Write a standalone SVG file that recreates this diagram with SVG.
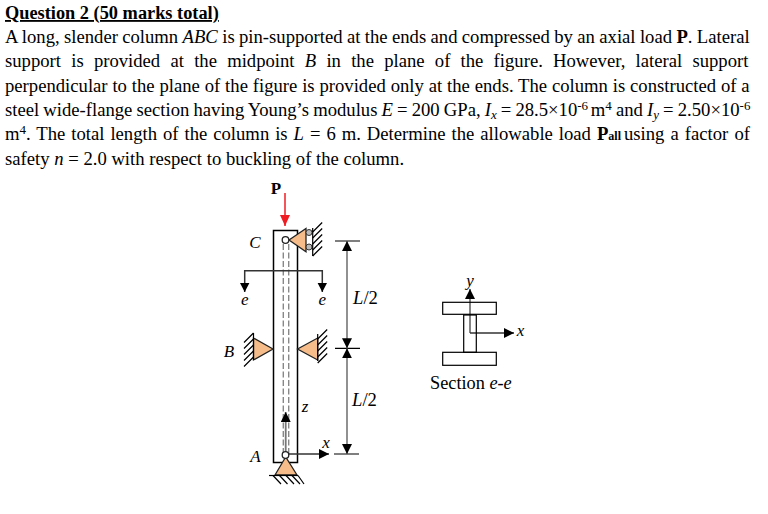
<svg xmlns="http://www.w3.org/2000/svg" width="768" height="514" viewBox="0 0 768 514">
<style>
text{font-family:"Liberation Serif","Times New Roman",serif;fill:#000}
.b{font-size:18.67px;white-space:pre}
.l{font-size:17px}
.i{font-style:italic}
.bd{font-weight:bold}
.ln{fill:none;stroke:#000;stroke-width:1.5}
.thin{fill:none;stroke:#000;stroke-width:1.2}
.tri{fill:#f6bd8a;stroke:#222;stroke-width:1.3}
.dash{fill:none;stroke:#888;stroke-width:1.4;stroke-dasharray:6 2.5}
.ax{fill:none;stroke:#333;stroke-width:1.5}
.gr{fill:none;stroke:#777;stroke-width:1.8}
.dim{fill:none;stroke:#555;stroke-width:1.3}
</style>
<defs>
<marker id="ah" markerUnits="userSpaceOnUse" markerWidth="12" markerHeight="12" refX="10" refY="5" orient="auto-start-reverse"><path d="M0 0L10 5L0 10z" fill="#000"/></marker>
<marker id="ahr" markerUnits="userSpaceOnUse" markerWidth="12" markerHeight="12" refX="11" refY="5" orient="auto"><path d="M0 0L11 5L0 10z" fill="#f01c24"/></marker>
<path id="hu" d="M0 0l9.500-9.500M0 6l9.500-9.500M0 12l9.500-9.500M0 18l9.500-9.500M0 24l9.500-9.500"/>
<path id="hd" d="M0 0l-9.500 9.500M0 6l-9.500 9.500M0 12l-9.500 9.500M0 18l-9.500 9.500M0 24l-9.500 9.500"/>
</defs>
<g id="question">
<text x="5" y="19" class="b bd" style="font-size:18.33px;text-decoration:underline">Question 2 (50 marks total)</text>
<text x="5" y="43" class="b" style="word-spacing:-0.3px">A long, slender column <tspan class="i">ABC</tspan> is pin-supported at the ends and compressed by an axial load <tspan class="bd">P</tspan>. Lateral</text>
<text x="5" y="67" class="b" style="word-spacing:5.57px">support is provided at the midpoint <tspan class="i">B</tspan> in the plane of the figure. However, lateral support</text>
<text x="5" y="91.500" class="b" style="word-spacing:0.2px">perpendicular to the plane of the figure is provided only at the ends. The column is constructed of a</text>
<text x="5" y="116" class="b" style="word-spacing:-0.55px">steel wide-flange section having Young’s modulus <tspan class="i">E</tspan> = 200 GPa, <tspan class="i">I<tspan font-size="13" dy="3">x</tspan></tspan><tspan dy="-3"> = 28.5×10</tspan><tspan font-size="13" dy="-6">-6 </tspan><tspan dy="6">m</tspan><tspan font-size="13" dy="-6">4</tspan><tspan dy="6"> and </tspan><tspan class="i">I<tspan font-size="13" dy="3">y</tspan></tspan><tspan dy="-3"> = 2.50×10</tspan><tspan font-size="13" dy="-6">-6</tspan></text>
<text x="5" y="140" class="b" style="word-spacing:1.3px">m<tspan font-size="13" dy="-6">4</tspan><tspan dy="6">. The total length of the column is </tspan><tspan class="i">L</tspan> = 6 m. Determine the allowable load <tspan class="bd">P</tspan><tspan class="bd" font-size="12">all</tspan></text>
<text x="624" y="140" class="b" style="word-spacing:1.4px">using a factor of</text>
<text x="5" y="165" class="b">safety <tspan class="i">n</tspan> = 2.0 with respect to buckling of the column.</text>
</g>
<g id="column">
<rect x="273.500" y="230.500" width="24" height="232" class="ln"/>
<path d="M283.300 244V455M288.700 244V455" class="dash"/>
</g>
<g id="connectors">
<path d="M285 193V226" stroke="#f01c24" stroke-width="1.5" fill="none" marker-end="url(#ahr)"/>
<path d="M244.700 292V270.700H322.300V292" class="ax"/>
<path d="M240 283L244.700 292L249.400 283zM317.600 283L322.300 292L327 283z" fill="#000"/>
<path d="M285.700 455V412" class="gr" marker-end="url(#ah)"/>
<path d="M285.700 454H329" class="ax" marker-end="url(#ah)"/>
<path d="M470 333V289" class="gr" marker-end="url(#ah)"/>
<path d="M470 333H514" class="ax" marker-end="url(#ah)"/>
<path d="M335 241H360M335 348.300H360M334 454H359" class="thin"/>
<path d="M347 241V348.300" class="dim" marker-start="url(#ah)" marker-end="url(#ah)"/>
<path d="M347 348.300V454" class="dim" marker-start="url(#ah)" marker-end="url(#ah)"/>
</g>
<g id="node-P"><text x="276" y="194" class="l bd" text-anchor="middle">P</text></g>
<g id="node-C">
<text x="255" y="248" class="l i" text-anchor="middle">C</text>
<path d="M289 240L306 228.500V251.700z" class="tri"/>
<circle cx="285.500" cy="240" r="3.300" fill="#fff" stroke="#222" stroke-width="1.300"/>
<circle cx="309" cy="232.500" r="3" fill="#bbb" stroke="#333"/>
<circle cx="309" cy="247" r="3" fill="#bbb" stroke="#333"/>
<path d="M312.700 228V256" class="thin"/>
<use href="#hu" x="312.700" y="232" class="thin"/>
</g>
<g id="node-B">
<text x="229" y="357" class="l i" text-anchor="middle">B</text>
<path d="M273 349L253.500 338V360z" class="tri"/>
<path d="M253.500 333V360" class="thin"/>
<use href="#hd" x="253.500" y="333" class="thin"/>
<path d="M297.500 349L317.700 338V360z" class="tri"/>
<path d="M317.700 334V361" class="thin"/>
<use href="#hu" x="317.700" y="339" class="thin"/>
</g>
<g id="node-A">
<text x="255.500" y="462" class="l i" text-anchor="middle">A</text>
<path d="M285.700 457L275 475H297z" class="tri"/>
<circle cx="285.500" cy="455" r="3.300" fill="#fff" stroke="#222" stroke-width="1.300"/>
<path d="M269 475.500H298" class="thin"/>
<path d="M273 475.500l8 8.500M279.500 475.500l8 8.500M286 475.500l8 8.500M292 475.500l8 8.500M298 475.500l6 8.500" class="thin"/>
</g>
<g id="labels">
<text x="244.700" y="305" class="l i" text-anchor="middle">e</text>
<text x="322.300" y="305" class="l i" text-anchor="middle">e</text>
<text x="353" y="304" class="b"><tspan class="i">L</tspan>/2</text>
<text x="352" y="406" class="b"><tspan class="i">L</tspan>/2</text>
<text x="305" y="412" class="i" font-size="17" text-anchor="middle">z</text>
<text x="326" y="448" class="l i" text-anchor="middle">x</text>
<text x="470" y="285.500" class="l i" text-anchor="middle">y</text>
<text x="520.500" y="336" class="l i" text-anchor="middle">x</text>
<text x="430" y="389" font-size="18.300">Section <tspan class="i">e-e</tspan></text>
</g>
<g id="section">
<rect x="442.700" y="302.300" width="53.600" height="12" class="thin"/>
<rect x="463.700" y="315" width="12.600" height="37.300" class="thin"/>
<rect x="442.700" y="352.300" width="53.600" height="13" class="thin"/>
</g>
</svg>
